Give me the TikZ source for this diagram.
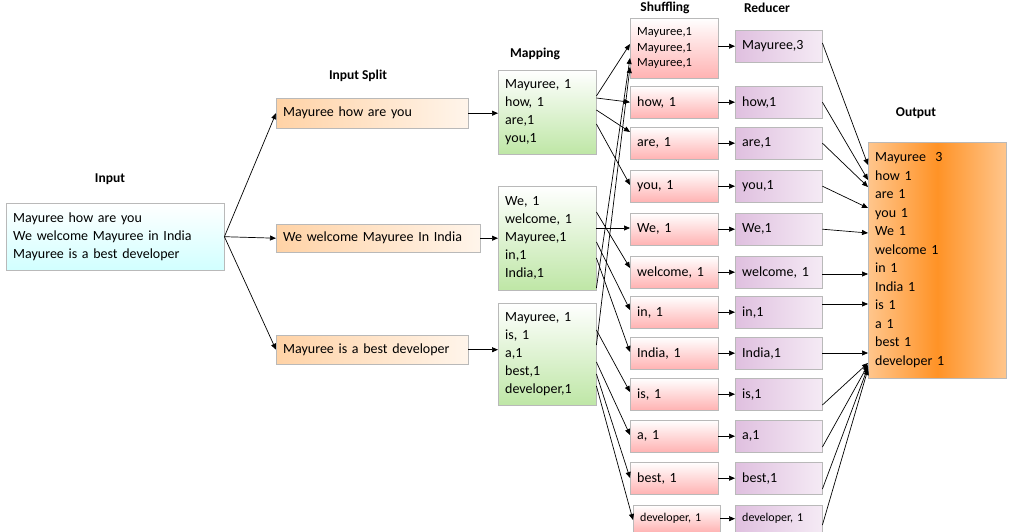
\documentclass[tikz,border=0pt]{standalone}
\usepackage{fontspec}
\setmainfont{Carlito}
\usetikzlibrary{arrows.meta,calc}
\begin{document}
\begin{tikzpicture}[x=1pt,y=-1pt,
  every node/.style={font=\fontsize{14}{18}\selectfont},
  bx/.style={draw=gray!55,anchor=north west,align=left,inner xsep=7pt,inner ysep=2pt},
  inp/.style={bx,top color=white,bottom color=cyan!18},
  spl/.style={bx,left color=orange!35,right color=orange!8},
  map/.style={bx,top color=white,bottom color=green!45!olive!35},
  shf/.style={bx,top color=white,bottom color=red!30},
  red/.style={bx,left color=violet!25,right color=violet!8},
  ttl/.style={font=\fontsize{13.5}{14}\selectfont\bfseries},
  ar/.style={-{Triangle[length=6pt,width=5pt]},line width=0.7pt}]
\useasboundingbox (0,0) rectangle (1014,532);
% titles
\node[ttl] at (110,179) {Input};
\node[ttl] at (358,76) {Input Split};
\node[ttl] at (535,54) {Mapping};
\node[ttl] at (665,8) {Shuffling};
\node[ttl] at (767,8) {Reducer};
\node[ttl] at (916,113) {Output};
% input
\node[inp,text width=204pt,minimum height=67pt] (in) at (6,203) {Mayuree how are you\\We welcome Mayuree in India\\Mayuree is a best developer};
% splits
\node[spl,text width=178pt,minimum height=30pt] (p1) at (276,98) {Mayuree how are you};
\node[spl,text width=190pt,minimum height=28pt] (p2) at (276,224) {We welcome Mayuree In India};
\node[spl,text width=178pt,minimum height=29pt] (p3) at (276,335) {Mayuree is a best developer};
% mapping
\node[map,text width=84pt,minimum height=84pt] (m1) at (498,70) {Mayuree, 1\\how, 1\\are,1\\you,1};
\node[map,text width=84pt,minimum height=104pt] (m2) at (498,186) {We, 1\\welcome, 1\\Mayuree,1\\in,1\\India,1};
\node[map,text width=84pt,minimum height=102pt] (m3) at (498,303) {Mayuree, 1\\is, 1\\a,1\\best,1\\developer,1};
% shuffle
\node[shf,text width=74pt,minimum height=60pt,font=\fontsize{12.5}{15.5}\selectfont] (s1) at (630,18) {Mayuree,1\\Mayuree,1\\Mayuree,1};
\foreach \n/\y/\t in {2/86/{how, 1},3/127/{are, 1},4/170/{you, 1},5/213/{We, 1},6/256/{welcome, 1},7/296/{in, 1},8/337/{India, 1},9/378/{is, 1},10/420/{a, 1},11/462/{best, 1}}
  \node[shf,text width=74pt,minimum height=32pt] (s\n) at (630,\y) {\t};
\node[shf,text width=73pt,minimum height=27pt,font=\fontsize{12}{14}\selectfont] (s12) at (633,505) {developer, 1};
% reducer
\node[red,text width=73pt,minimum height=32pt] (r1) at (735,30) {Mayuree,3};
\foreach \n/\y/\t in {2/86/{how,1},3/127/{are,1},4/170/{you,1},5/213/{We,1},6/256/{welcome, 1},7/296/{in,1},8/337/{India,1},9/378/{is,1},10/420/{a,1},11/462/{best,1}}
  \node[red,text width=73pt,minimum height=32pt] (r\n) at (735,\y) {\t};
\node[red,text width=73pt,minimum height=27pt,font=\fontsize{12}{14}\selectfont] (r12) at (735,505) {developer, 1};
% output
\node[bx,left color=orange!45,right color=orange!45,middle color=orange!85,text width=124pt,minimum height=236pt,anchor=north west,inner ysep=6pt,font=\fontsize{14}{18.5}\selectfont] (out) at (868,142) {Mayuree\ \ 3\\how 1\\are 1\\you 1\\We 1\\welcome 1\\in 1\\India 1\\is 1\\a 1\\best 1\\developer 1\\[2pt]};
% input -> split
\draw[ar] (in.east) -- (p1.west);
\draw[ar] (in.east) -- (p2.west);
\draw[ar] (in.east) -- (p3.west);
\draw[ar] (p1.east) -- (m1.west |- p1.east);
\draw[ar] (p2.east) -- (m2.west |- p2.east);
\draw[ar] (p3.east) -- (m3.west |- p3.east);
% mapping -> shuffle
\draw[ar] (m1.east |- 0,96) -- (s1.west |- 0,44);
\draw[ar] (m1.east |- 0,98) -- (s2.west);
\draw[ar] (m1.east |- 0,110) -- (s3.west |- 0,132);
\draw[ar] (m1.east |- 0,124) -- (s4.west |- 0,185);
\draw[ar] (m2.east |- 0,228) -- (s5.west |- 0,228);
\draw[ar] (m2.east |- 0,212) -- (s6.west |- 0,268);
\draw[ar] (m2.east |- 0,242) -- (s7.west |- 0,310);
\draw[ar] (m2.east |- 0,258) -- (s8.west |- 0,352);
\draw[ar] (m2.east |- 0,288) -- (s1.west |- 0,58);
\draw[ar] (m3.east |- 0,345) -- (s1.west |- 0,67);
\draw[ar] (m3.east |- 0,330) -- (s9.west |- 0,392);
\draw[ar] (m3.east |- 0,362) -- (s10.west |- 0,435);
\draw[ar] (m3.east |- 0,374) -- (s11.west |- 0,478);
\draw[ar] (m3.east |- 0,386) -- (s12.west |- 0,520);
% shuffle -> reducer
\draw[ar] (s1.east |- r1.west) -- (r1.west);
\foreach \n in {2,...,12} \draw[ar] (s\n.east |- r\n.west) -- (r\n.west);
% reducer -> output
\draw[ar] (r1.east |- 0,43) -- (out.west |- 0,165);
\draw[ar] (r2.east) -- (out.west |- 0,180);
\draw[ar] (r3.east) -- (out.west |- 0,187);
\draw[ar] (r4.east) -- (out.west |- 0,208);
\draw[ar] (r5.east) -- (out.west |- 0,233);
\draw[ar] (r6.east |- 0,274) -- (out.west |- 0,274);
\draw[ar] (r7.east |- 0,304) -- (out.west |- 0,304);
\draw[ar] (r8.east |- 0,353) -- (out.west |- 0,353);
\draw[ar] (r9.east |- 0,405) -- (out.west |- 0,363);
\draw[ar] (r10.east |- 0,447) -- (out.west |- 0,365);
\draw[ar] (r11.east |- 0,489) -- (out.west |- 0,367);
\draw[ar] (r12.east |- 0,525) -- (out.west |- 0,369);
\end{tikzpicture}
\end{document}
